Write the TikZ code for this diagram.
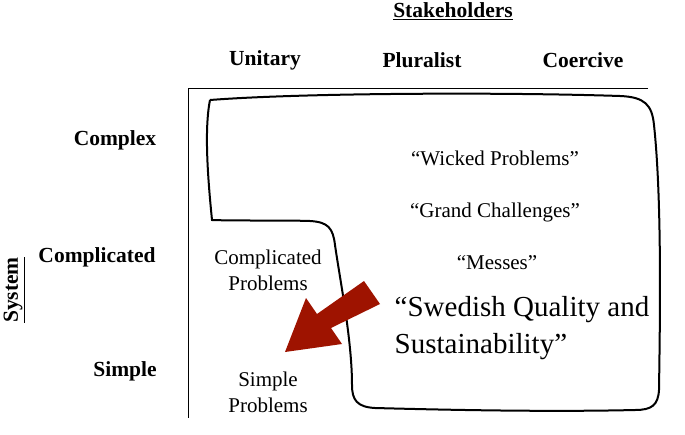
\documentclass[tikz,border=0pt]{standalone}
\usepackage{fontspec}
\setmainfont{Liberation Serif}
\begin{document}
\begin{tikzpicture}[x=1pt,y=-1pt]
    \tikzstyle{head}=[font=\fontsize{21.5}{24}\selectfont\bfseries];
    \tikzstyle{txt}=[font=\fontsize{21}{26}\selectfont,align=center];
    \useasboundingbox (0,0) rectangle (685,434);

    \node (stake) [head] at (453,11) {\underline{Stakeholders}};
    \node (unit) [head] at (265,60) {Unitary};
    \node (plur) [head] at (422,60) {Pluralist};
    \node (coer) [head] at (583,60) {Coercive};

    \node (cplx) [head] at (115,140) {Complex};
    \node (cpld) [head] at (97,257) {Complicated};
    \node (simp) [head] at (125,371) {Simple};
    \node (sys) [head,rotate=90] at (14,290) {\underline{System}};

    \coordinate (o) at (188,88);
    \coordinate (xe) at (648,88);
    \coordinate (ye) at (188,418);
    \draw[line width=0.9pt] (xe) -- (o) -- (ye);

    % hand drawn boundary
    \draw[line width=2pt] (210,100) .. controls (300,93) and (500,92) .. (620,96)
      .. controls (645,97) and (652,105) .. (654,125)
      .. controls (662,200) and (660,320) .. (659,390)
      .. controls (658,405) and (652,410) .. (635,410)
      .. controls (550,412) and (450,410) .. (375,408)
      .. controls (357,407) and (352,400) .. (352,385)
      .. controls (352,340) and (340,280) .. (335,245)
      .. controls (333,228) and (328,222) .. (310,221)
      .. controls (280,220) and (240,221) .. (212,220)
      .. controls (208,180) and (204,130) .. (210,100);

    \node (wick) [txt] at (495,158) {“Wicked Problems”};
    \node (gran) [txt] at (495,212) {“Grand Challenges”};
    \node (mess) [txt] at (497,263) {“Messes”};
    \node (swed) [font=\fontsize{29}{37}\selectfont,align=left] at (522,328) {“Swedish Quality and\\Sustainability”};
    \node (cprob) [txt] at (268,270) {Complicated\\Problems};
    \node (sprob) [txt] at (268,392) {Simple\\Problems};

    % red arrow
    \fill[red!55!black!85!orange] (380,304) -- (364,281) -- (317,314) -- (306,298) -- (285,352)
      -- (342,344) -- (331,328) -- cycle;
\end{tikzpicture}
\end{document}
